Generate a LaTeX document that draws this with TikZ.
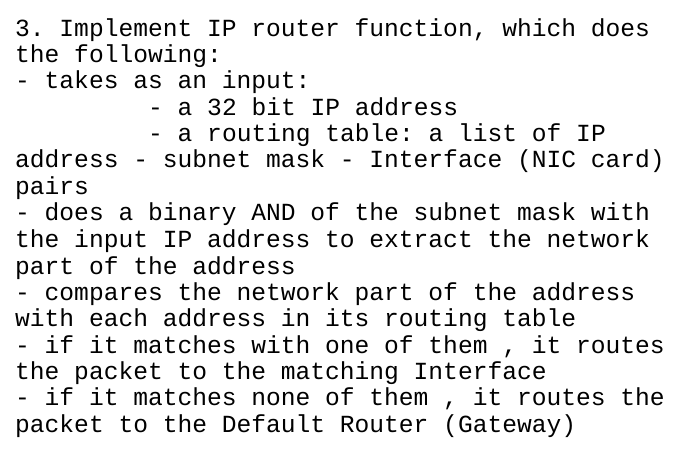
\documentclass[tikz,border=0pt]{standalone}
\usepackage{fontspec}
\setmonofont{Liberation Mono}
\begin{document}
\begin{tikzpicture}[x=1pt,y=1pt,
  txt/.style={anchor=base west,inner sep=0pt,font=\ttfamily\fontsize{24.6}{26}\selectfont}]
\useasboundingbox (0,0) rectangle (700,458);
\fill[white] (0,0) rectangle (700,458);
\node[txt] (l1) at (15,421) {3. Implement IP router function, which does};
\node[txt] (l2) at (15,395) {the following:};
\node[txt] (l3) at (15,369) {- takes as an input:};
\node[txt] (l4) at (148,342) {- a 32 bit IP address};
\node[txt] (l5) at (148,316) {- a routing table: a list of IP};
\node[txt] (l6) at (15,290) {address - subnet mask - Interface (NIC card)};
\node[txt] (l7) at (15,263) {pairs};
\node[txt] (l8) at (15,237) {- does a binary AND of the subnet mask with};
\node[txt] (l9) at (15,211) {the input IP address to extract the network};
\node[txt] (l10) at (15,184) {part of the address};
\node[txt] (l11) at (15,158) {- compares the network part of the address};
\node[txt] (l12) at (15,132) {with each address in its routing table};
\node[txt] (l13) at (15,105) {- if it matches with one of them , it routes};
\node[txt] (l14) at (15,79) {the packet to the matching Interface};
\node[txt] (l15) at (15,53) {- if it matches none of them , it routes the};
\node[txt] (l16) at (15,26) {packet to the Default Router (Gateway)};
\end{tikzpicture}
\end{document}
